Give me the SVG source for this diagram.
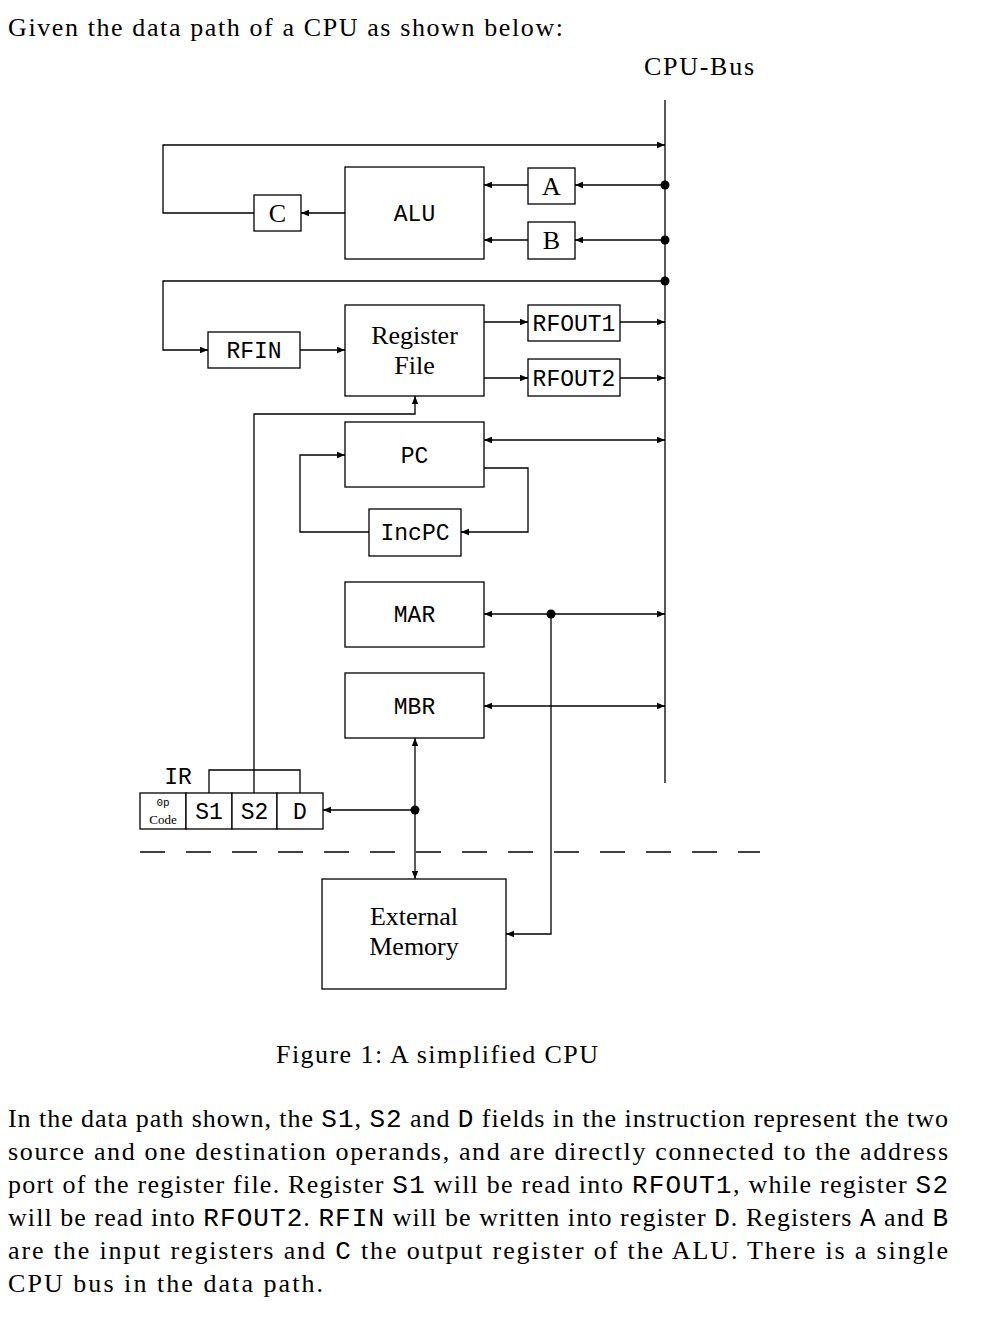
<svg xmlns="http://www.w3.org/2000/svg" width="994" height="1320" viewBox="0 0 994 1320">
<style>
.b{fill:#fff;stroke:#000;stroke-width:1.3}
.l{fill:none;stroke:#000;stroke-width:1.3}
.s{font-family:"Liberation Serif",serif;font-size:26px;fill:#000}
.m{font-family:"Liberation Mono",monospace;font-size:23px;fill:#000}
.mt{font-family:"Liberation Mono",monospace}
.c{text-anchor:middle}
</style>
<defs>
<marker id="ar" viewBox="0 0 10 10" refX="10" refY="5" markerWidth="8" markerHeight="8" orient="auto-start-reverse" markerUnits="userSpaceOnUse"><path d="M0,1 L10,5 L0,9 Z" fill="#000"/></marker>
</defs>
<rect width="994" height="1320" fill="#fff"/>
<text class="s" x="8" y="36" textLength="555" lengthAdjust="spacing">Given the data path of a CPU as shown below:</text>
<text class="s" x="644" y="75" textLength="110" lengthAdjust="spacing">CPU-Bus</text>
<g id="connectors">
<line class="l" x1="665" y1="100" x2="665" y2="783"/>
<polyline class="l" points="254,213 163,213 163,145 665,145" marker-end="url(#ar)"/>
<line class="l" x1="665" y1="185" x2="575" y2="185" marker-end="url(#ar)"/>
<line class="l" x1="528" y1="185" x2="484" y2="185" marker-end="url(#ar)"/>
<line class="l" x1="665" y1="240" x2="575" y2="240" marker-end="url(#ar)"/>
<line class="l" x1="528" y1="240" x2="484" y2="240" marker-end="url(#ar)"/>
<line class="l" x1="345" y1="213" x2="301" y2="213" marker-end="url(#ar)"/>
<polyline class="l" points="665,281 163,281 163,350 208,350" marker-end="url(#ar)"/>
<line class="l" x1="300" y1="350" x2="345" y2="350" marker-end="url(#ar)"/>
<line class="l" x1="484" y1="322" x2="528" y2="322" marker-end="url(#ar)"/>
<line class="l" x1="620" y1="322" x2="665" y2="322" marker-end="url(#ar)"/>
<line class="l" x1="484" y1="378" x2="528" y2="378" marker-end="url(#ar)"/>
<line class="l" x1="620" y1="378" x2="665" y2="378" marker-end="url(#ar)"/>
<polyline class="l" points="254,793 254,414 415,414 415,396" marker-end="url(#ar)"/>
<line class="l" x1="484" y1="440" x2="665" y2="440" marker-start="url(#ar)" marker-end="url(#ar)"/>
<polyline class="l" points="484,468 528,468 528,532 461,532" marker-end="url(#ar)"/>
<polyline class="l" points="369,532 300,532 300,455 345,455" marker-end="url(#ar)"/>
<line class="l" x1="484" y1="614" x2="665" y2="614" marker-start="url(#ar)" marker-end="url(#ar)"/>
<polyline class="l" points="551,614 551,934 506,934" marker-end="url(#ar)"/>
<line class="l" x1="484" y1="706" x2="665" y2="706" marker-start="url(#ar)" marker-end="url(#ar)"/>
<line class="l" x1="415" y1="738" x2="415" y2="879" marker-start="url(#ar)" marker-end="url(#ar)"/>
<line class="l" x1="415" y1="810" x2="323" y2="810" marker-end="url(#ar)"/>
<polyline class="l" points="209,793 209,770 300,770 300,793"/>
<line class="l" x1="140" y1="852" x2="760" y2="852" stroke-dasharray="25,21"/>
<circle cx="665" cy="185" r="4.5"/><circle cx="665" cy="240" r="4.5"/><circle cx="665" cy="281" r="4.5"/>
<circle cx="551" cy="614" r="4.5"/><circle cx="415" cy="810" r="4.5"/>
</g>
<g id="C"><rect class="b" x="254" y="195" width="47" height="36"/><text class="s c" x="277.5" y="222">C</text></g>
<g id="ALU"><rect class="b" x="345" y="167" width="139" height="92"/><text class="m c" x="414.5" y="221">ALU</text></g>
<g id="A"><rect class="b" x="528" y="168" width="47" height="36"/><text class="s c" x="551.5" y="195">A</text></g>
<g id="B"><rect class="b" x="528" y="222" width="47" height="37"/><text class="s c" x="551.5" y="249">B</text></g>
<g id="RFIN"><rect class="b" x="208" y="332" width="92" height="36"/><text class="m c" x="254" y="358">RFIN</text></g>
<g id="RF"><rect class="b" x="345" y="305" width="139" height="91"/><text class="s c" x="414.5" y="344">Register</text><text class="s c" x="414.5" y="374">File</text></g>
<g id="RFOUT1"><rect class="b" x="528" y="305" width="92" height="36"/><text class="m c" x="574" y="331">RFOUT1</text></g>
<g id="RFOUT2"><rect class="b" x="528" y="359" width="92" height="37"/><text class="m c" x="574" y="386">RFOUT2</text></g>
<g id="PC"><rect class="b" x="345" y="422" width="139" height="65"/><text class="m c" x="414.5" y="463">PC</text></g>
<g id="IncPC"><rect class="b" x="369" y="509" width="92" height="47"/><text class="m c" x="415" y="540">IncPC</text></g>
<g id="MAR"><rect class="b" x="345" y="582" width="139" height="65"/><text class="m c" x="414.5" y="622">MAR</text></g>
<g id="MBR"><rect class="b" x="345" y="673" width="139" height="65"/><text class="m c" x="414.5" y="714">MBR</text></g>
<g id="IR">
<text class="m c" x="178" y="784">IR</text>
<rect class="b" x="140" y="793" width="46" height="36"/>
<text class="mt c" x="163" y="806" font-size="11">0p</text>
<text class="c" x="163" y="824" font-family="Liberation Serif,serif" font-size="13">Code</text>
<rect class="b" x="186" y="793" width="46" height="36"/><text class="m c" x="209" y="819">S1</text>
<rect class="b" x="232" y="793" width="45" height="36"/><text class="m c" x="254.5" y="819">S2</text>
<rect class="b" x="277" y="793" width="46" height="36"/><text class="m c" x="300" y="819">D</text>
</g>
<g id="ExtMem"><rect class="b" x="322" y="879" width="184" height="110"/><text class="s c" x="414" y="925">External</text><text class="s c" x="414" y="955">Memory</text></g>
<text class="s" x="276" y="1063" textLength="322" lengthAdjust="spacing">Figure 1:  A simplified CPU</text>
<g class="s">
<text x="8" y="1127" textLength="940" lengthAdjust="spacing">In the data path shown, the <tspan class="mt">S1</tspan>, <tspan class="mt">S2</tspan> and <tspan class="mt">D</tspan> fields in the instruction represent the two</text>
<text x="8" y="1160" textLength="940" lengthAdjust="spacing">source and one destination operands, and are directly connected to the address</text>
<text x="8" y="1193" textLength="940" lengthAdjust="spacing">port of the register file. Register <tspan class="mt">S1</tspan> will be read into <tspan class="mt">RFOUT1</tspan>, while register <tspan class="mt">S2</tspan></text>
<text x="8" y="1226" textLength="940" lengthAdjust="spacing">will be read into <tspan class="mt">RFOUT2</tspan>. <tspan class="mt">RFIN</tspan> will be written into register <tspan class="mt">D</tspan>. Registers <tspan class="mt">A</tspan> and <tspan class="mt">B</tspan></text>
<text x="8" y="1259" textLength="940" lengthAdjust="spacing">are the input registers and <tspan class="mt">C</tspan> the output register of the ALU. There is a single</text>
<text x="8" y="1292" textLength="315" lengthAdjust="spacing">CPU bus in the data path.</text>
</g>
</svg>
